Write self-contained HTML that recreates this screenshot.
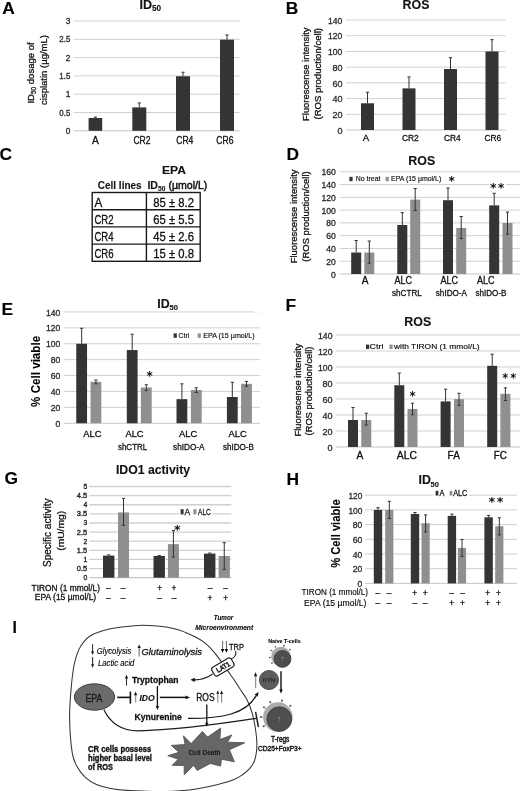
<!DOCTYPE html>
<html><head><meta charset="utf-8"><title>Figure</title>
<style>
html,body{margin:0;padding:0;background:#fff;}
body{width:520px;height:791px;overflow:hidden;}
svg{display:block;}
text{font-family:"Liberation Sans", Arial, sans-serif;}
</style></head><body>
<svg width="520" height="791" viewBox="0 0 520 791">
<rect width="520" height="791" fill="#fff"/>
<text x="2.20" y="14.30" font-size="17.4" font-weight="bold" fill="#000" stroke="#000" stroke-width="0.1">A</text>
<text x="139.50" y="8.60" font-size="12.6" font-weight="bold" fill="#111" stroke="#111" stroke-width="0.1">ID</text>
<text x="152.00" y="11.40" font-size="8.2" font-weight="bold" fill="#111" stroke="#111" stroke-width="0.1">50</text>
<line x1="73.50" y1="130.80" x2="239.50" y2="130.80" stroke="#c6c6c6" stroke-width="1"/>
<text x="70.30" y="133.82" font-size="8.4" text-anchor="end" fill="#2a2a2a" stroke="#2a2a2a" stroke-width="0.3">0</text>
<line x1="73.50" y1="112.50" x2="239.50" y2="112.50" stroke="#d0d0d0" stroke-width="1"/>
<text x="70.30" y="115.52" font-size="8.4" text-anchor="end" fill="#2a2a2a" textLength="11.00" lengthAdjust="spacingAndGlyphs" stroke="#2a2a2a" stroke-width="0.3">0.5</text>
<line x1="73.50" y1="94.20" x2="239.50" y2="94.20" stroke="#d0d0d0" stroke-width="1"/>
<text x="70.30" y="97.22" font-size="8.4" text-anchor="end" fill="#2a2a2a" stroke="#2a2a2a" stroke-width="0.3">1</text>
<line x1="73.50" y1="75.90" x2="239.50" y2="75.90" stroke="#d0d0d0" stroke-width="1"/>
<text x="70.30" y="78.92" font-size="8.4" text-anchor="end" fill="#2a2a2a" textLength="11.00" lengthAdjust="spacingAndGlyphs" stroke="#2a2a2a" stroke-width="0.3">1.5</text>
<line x1="73.50" y1="57.60" x2="239.50" y2="57.60" stroke="#d0d0d0" stroke-width="1"/>
<text x="70.30" y="60.62" font-size="8.4" text-anchor="end" fill="#2a2a2a" stroke="#2a2a2a" stroke-width="0.3">2</text>
<line x1="73.50" y1="39.30" x2="239.50" y2="39.30" stroke="#d0d0d0" stroke-width="1"/>
<text x="70.30" y="42.32" font-size="8.4" text-anchor="end" fill="#2a2a2a" textLength="11.00" lengthAdjust="spacingAndGlyphs" stroke="#2a2a2a" stroke-width="0.3">2.5</text>
<line x1="73.50" y1="21.00" x2="239.50" y2="21.00" stroke="#d0d0d0" stroke-width="1"/>
<text x="70.30" y="24.02" font-size="8.4" text-anchor="end" fill="#2a2a2a" stroke="#2a2a2a" stroke-width="0.3">3</text>
<rect x="88.60" y="117.99" width="13.60" height="12.81" fill="#343434"/>
<line x1="95.40" y1="117.08" x2="95.40" y2="117.99" stroke="#333" stroke-width="1"/>
<line x1="93.80" y1="117.08" x2="97.00" y2="117.08" stroke="#333" stroke-width="1"/>
<rect x="132.30" y="107.38" width="14.00" height="23.42" fill="#343434"/>
<line x1="139.30" y1="102.98" x2="139.30" y2="107.38" stroke="#333" stroke-width="1"/>
<line x1="137.70" y1="102.98" x2="140.90" y2="102.98" stroke="#333" stroke-width="1"/>
<rect x="176.00" y="76.27" width="14.00" height="54.53" fill="#343434"/>
<line x1="183.00" y1="72.24" x2="183.00" y2="76.27" stroke="#333" stroke-width="1"/>
<line x1="181.40" y1="72.24" x2="184.60" y2="72.24" stroke="#333" stroke-width="1"/>
<rect x="220.00" y="39.67" width="14.00" height="91.13" fill="#343434"/>
<line x1="227.00" y1="34.91" x2="227.00" y2="39.67" stroke="#333" stroke-width="1"/>
<line x1="225.40" y1="34.91" x2="228.60" y2="34.91" stroke="#333" stroke-width="1"/>
<text x="95.50" y="143.60" font-size="10.2" text-anchor="middle" stroke="#222" stroke-width="0.3">A</text>
<text x="142.00" y="143.60" font-size="10.2" text-anchor="middle" textLength="17.20" lengthAdjust="spacingAndGlyphs" stroke="#222" stroke-width="0.3">CR2</text>
<text x="184.80" y="143.60" font-size="10.2" text-anchor="middle" textLength="17.20" lengthAdjust="spacingAndGlyphs" stroke="#222" stroke-width="0.3">CR4</text>
<text x="224.90" y="143.60" font-size="10.2" text-anchor="middle" textLength="17.20" lengthAdjust="spacingAndGlyphs" stroke="#222" stroke-width="0.3">CR6</text>
<text transform="translate(34.20,73.00) rotate(-90)" x="0" y="0" font-size="9.5" text-anchor="middle" stroke="#222" stroke-width="0.3">ID<tspan font-size="6.5" dy="1.8">50</tspan><tspan dy="-1.8"> dosage of</tspan></text>
<text transform="translate(46.60,70.00) rotate(-90)" x="0" y="0" font-size="9.5" text-anchor="middle" stroke="#222" stroke-width="0.3">cisplatin (µg/mL)</text>
<text x="285.80" y="13.80" font-size="17.4" font-weight="bold" fill="#000" stroke="#000" stroke-width="0.1">B</text>
<text x="416.00" y="8.70" font-size="12.4" text-anchor="middle" font-weight="bold" fill="#111" stroke="#111" stroke-width="0.1">ROS</text>
<line x1="346.00" y1="130.00" x2="505.50" y2="130.00" stroke="#c6c6c6" stroke-width="1"/>
<text x="342.40" y="133.74" font-size="9" text-anchor="end" fill="#2a2a2a" stroke="#2a2a2a" stroke-width="0.3">0</text>
<line x1="346.00" y1="114.29" x2="505.50" y2="114.29" stroke="#d0d0d0" stroke-width="1"/>
<text x="342.40" y="118.03" font-size="9" text-anchor="end" fill="#2a2a2a" stroke="#2a2a2a" stroke-width="0.3">20</text>
<line x1="346.00" y1="98.57" x2="505.50" y2="98.57" stroke="#d0d0d0" stroke-width="1"/>
<text x="342.40" y="102.31" font-size="9" text-anchor="end" fill="#2a2a2a" stroke="#2a2a2a" stroke-width="0.3">40</text>
<line x1="346.00" y1="82.86" x2="505.50" y2="82.86" stroke="#d0d0d0" stroke-width="1"/>
<text x="342.40" y="86.60" font-size="9" text-anchor="end" fill="#2a2a2a" stroke="#2a2a2a" stroke-width="0.3">60</text>
<line x1="346.00" y1="67.14" x2="505.50" y2="67.14" stroke="#d0d0d0" stroke-width="1"/>
<text x="342.40" y="70.88" font-size="9" text-anchor="end" fill="#2a2a2a" stroke="#2a2a2a" stroke-width="0.3">80</text>
<line x1="346.00" y1="51.43" x2="505.50" y2="51.43" stroke="#d0d0d0" stroke-width="1"/>
<text x="342.40" y="55.17" font-size="9" text-anchor="end" fill="#2a2a2a" textLength="14.30" lengthAdjust="spacingAndGlyphs" stroke="#2a2a2a" stroke-width="0.3">100</text>
<line x1="346.00" y1="35.71" x2="505.50" y2="35.71" stroke="#d0d0d0" stroke-width="1"/>
<text x="342.40" y="39.45" font-size="9" text-anchor="end" fill="#2a2a2a" textLength="14.30" lengthAdjust="spacingAndGlyphs" stroke="#2a2a2a" stroke-width="0.3">120</text>
<line x1="346.00" y1="20.00" x2="505.50" y2="20.00" stroke="#d0d0d0" stroke-width="1"/>
<text x="342.40" y="23.74" font-size="9" text-anchor="end" fill="#2a2a2a" textLength="14.30" lengthAdjust="spacingAndGlyphs" stroke="#2a2a2a" stroke-width="0.3">140</text>
<rect x="361.00" y="103.29" width="13.00" height="26.71" fill="#343434"/>
<line x1="367.50" y1="92.29" x2="367.50" y2="103.29" stroke="#333" stroke-width="1"/>
<line x1="365.90" y1="92.29" x2="369.10" y2="92.29" stroke="#333" stroke-width="1"/>
<rect x="402.50" y="88.36" width="13.00" height="41.64" fill="#343434"/>
<line x1="409.00" y1="76.96" x2="409.00" y2="88.36" stroke="#333" stroke-width="1"/>
<line x1="407.40" y1="76.96" x2="410.60" y2="76.96" stroke="#333" stroke-width="1"/>
<rect x="444.00" y="69.03" width="13.00" height="60.97" fill="#343434"/>
<line x1="450.50" y1="57.71" x2="450.50" y2="69.03" stroke="#333" stroke-width="1"/>
<line x1="448.90" y1="57.71" x2="452.10" y2="57.71" stroke="#333" stroke-width="1"/>
<rect x="485.50" y="51.43" width="13.00" height="78.57" fill="#343434"/>
<line x1="492.00" y1="39.64" x2="492.00" y2="51.43" stroke="#333" stroke-width="1"/>
<line x1="490.40" y1="39.64" x2="493.60" y2="39.64" stroke="#333" stroke-width="1"/>
<text x="366.00" y="141.10" font-size="9.6" text-anchor="middle" stroke="#222" stroke-width="0.3">A</text>
<text x="410.30" y="141.10" font-size="9.6" text-anchor="middle" textLength="16.80" lengthAdjust="spacingAndGlyphs" stroke="#222" stroke-width="0.3">CR2</text>
<text x="452.30" y="141.10" font-size="9.6" text-anchor="middle" textLength="16.80" lengthAdjust="spacingAndGlyphs" stroke="#222" stroke-width="0.3">CR4</text>
<text x="492.80" y="141.10" font-size="9.6" text-anchor="middle" textLength="16.80" lengthAdjust="spacingAndGlyphs" stroke="#222" stroke-width="0.3">CR6</text>
<text transform="translate(309.00,74.20) rotate(-90)" x="0" y="0" font-size="9.4" text-anchor="middle" textLength="93.50" lengthAdjust="spacingAndGlyphs" stroke="#222" stroke-width="0.3">Fluorescense intensity</text>
<text transform="translate(320.60,73.80) rotate(-90)" x="0" y="0" font-size="9.4" text-anchor="middle" textLength="91.50" lengthAdjust="spacingAndGlyphs" stroke="#222" stroke-width="0.3">(ROS production/cell)</text>
<text x="-0.60" y="159.80" font-size="17.4" font-weight="bold" fill="#000" stroke="#000" stroke-width="0.1">C</text>
<text x="174.00" y="174.20" font-size="10.6" text-anchor="middle" font-weight="bold" fill="#111" textLength="24.00" lengthAdjust="spacingAndGlyphs" stroke="#111" stroke-width="0.1">EPA</text>
<text x="97.80" y="188.90" font-size="10.2" font-weight="bold" fill="#111" textLength="43.80" lengthAdjust="spacingAndGlyphs" stroke="#111" stroke-width="0.1">Cell lines</text>
<text x="147.40" y="188.90" font-size="10.2" font-weight="bold" fill="#111" textLength="60.00" lengthAdjust="spacingAndGlyphs" stroke="#111" stroke-width="0.1">ID<tspan font-size="6.5" dy="1.8">50</tspan><tspan dy="-1.8" font-weight="normal" stroke-width="0.45"> (µmol/L)</tspan></text>
<rect x="92.2" y="192.5" width="107.99999999999999" height="68.80000000000001" fill="none" stroke="#1a1a1a" stroke-width="1.4"/>
<line x1="92.20" y1="209.70" x2="200.20" y2="209.70" stroke="#1a1a1a" stroke-width="1.4"/>
<line x1="92.20" y1="226.90" x2="200.20" y2="226.90" stroke="#1a1a1a" stroke-width="1.4"/>
<line x1="92.20" y1="244.10" x2="200.20" y2="244.10" stroke="#1a1a1a" stroke-width="1.4"/>
<line x1="146.40" y1="192.50" x2="146.40" y2="261.30" stroke="#1a1a1a" stroke-width="1.4"/>
<text x="94.40" y="206.50" font-size="12.0" fill="#111" textLength="7.80" lengthAdjust="spacingAndGlyphs" stroke="#111" stroke-width="0.3">A</text>
<text x="173.60" y="206.50" font-size="12.0" text-anchor="middle" fill="#111" textLength="40.60" lengthAdjust="spacingAndGlyphs" stroke="#111" stroke-width="0.3">85 ± 8.2</text>
<text x="94.40" y="223.70" font-size="12.0" fill="#111" textLength="19.20" lengthAdjust="spacingAndGlyphs" stroke="#111" stroke-width="0.3">CR2</text>
<text x="173.60" y="223.70" font-size="12.0" text-anchor="middle" fill="#111" textLength="40.60" lengthAdjust="spacingAndGlyphs" stroke="#111" stroke-width="0.3">65 ± 5.5</text>
<text x="94.40" y="240.90" font-size="12.0" fill="#111" textLength="19.20" lengthAdjust="spacingAndGlyphs" stroke="#111" stroke-width="0.3">CR4</text>
<text x="173.60" y="240.90" font-size="12.0" text-anchor="middle" fill="#111" textLength="40.60" lengthAdjust="spacingAndGlyphs" stroke="#111" stroke-width="0.3">45 ± 2.6</text>
<text x="94.40" y="258.10" font-size="12.0" fill="#111" textLength="19.20" lengthAdjust="spacingAndGlyphs" stroke="#111" stroke-width="0.3">CR6</text>
<text x="173.60" y="258.10" font-size="12.0" text-anchor="middle" fill="#111" textLength="40.60" lengthAdjust="spacingAndGlyphs" stroke="#111" stroke-width="0.3">15 ± 0.8</text>
<text x="286.60" y="159.90" font-size="17.4" font-weight="bold" fill="#000" stroke="#000" stroke-width="0.1">D</text>
<text x="421.80" y="164.60" font-size="12.4" text-anchor="middle" font-weight="bold" fill="#111" stroke="#111" stroke-width="0.1">ROS</text>
<line x1="339.50" y1="274.00" x2="520.00" y2="274.00" stroke="#c6c6c6" stroke-width="1"/>
<text x="335.80" y="277.60" font-size="8.6" text-anchor="end" fill="#2a2a2a" stroke="#2a2a2a" stroke-width="0.3">0</text>
<line x1="339.50" y1="261.22" x2="520.00" y2="261.22" stroke="#d0d0d0" stroke-width="1"/>
<text x="335.80" y="264.82" font-size="8.6" text-anchor="end" fill="#2a2a2a" stroke="#2a2a2a" stroke-width="0.3">20</text>
<line x1="339.50" y1="248.44" x2="520.00" y2="248.44" stroke="#d0d0d0" stroke-width="1"/>
<text x="335.80" y="252.04" font-size="8.6" text-anchor="end" fill="#2a2a2a" stroke="#2a2a2a" stroke-width="0.3">40</text>
<line x1="339.50" y1="235.66" x2="520.00" y2="235.66" stroke="#d0d0d0" stroke-width="1"/>
<text x="335.80" y="239.26" font-size="8.6" text-anchor="end" fill="#2a2a2a" stroke="#2a2a2a" stroke-width="0.3">60</text>
<line x1="339.50" y1="222.88" x2="520.00" y2="222.88" stroke="#d0d0d0" stroke-width="1"/>
<text x="335.80" y="226.48" font-size="8.6" text-anchor="end" fill="#2a2a2a" stroke="#2a2a2a" stroke-width="0.3">80</text>
<line x1="339.50" y1="210.10" x2="520.00" y2="210.10" stroke="#d0d0d0" stroke-width="1"/>
<text x="335.80" y="213.70" font-size="8.6" text-anchor="end" fill="#2a2a2a" textLength="14.40" lengthAdjust="spacingAndGlyphs" stroke="#2a2a2a" stroke-width="0.3">100</text>
<line x1="339.50" y1="197.32" x2="520.00" y2="197.32" stroke="#d0d0d0" stroke-width="1"/>
<text x="335.80" y="200.92" font-size="8.6" text-anchor="end" fill="#2a2a2a" textLength="14.40" lengthAdjust="spacingAndGlyphs" stroke="#2a2a2a" stroke-width="0.3">120</text>
<line x1="339.50" y1="184.54" x2="520.00" y2="184.54" stroke="#d0d0d0" stroke-width="1"/>
<text x="335.80" y="188.14" font-size="8.6" text-anchor="end" fill="#2a2a2a" textLength="14.40" lengthAdjust="spacingAndGlyphs" stroke="#2a2a2a" stroke-width="0.3">140</text>
<line x1="339.50" y1="171.76" x2="520.00" y2="171.76" stroke="#d0d0d0" stroke-width="1"/>
<text x="335.80" y="175.36" font-size="8.6" text-anchor="end" fill="#2a2a2a" textLength="14.40" lengthAdjust="spacingAndGlyphs" stroke="#2a2a2a" stroke-width="0.3">160</text>
<rect x="351.20" y="252.53" width="10.00" height="21.47" fill="#343434"/>
<line x1="356.20" y1="240.52" x2="356.20" y2="252.53" stroke="#333" stroke-width="1"/>
<line x1="354.60" y1="240.52" x2="357.80" y2="240.52" stroke="#333" stroke-width="1"/>
<rect x="364.30" y="252.53" width="10.00" height="21.47" fill="#8f8f8f"/>
<line x1="369.30" y1="241.03" x2="369.30" y2="252.53" stroke="#333" stroke-width="1"/>
<line x1="367.70" y1="241.03" x2="370.90" y2="241.03" stroke="#333" stroke-width="1"/>
<line x1="369.30" y1="252.53" x2="369.30" y2="263.14" stroke="#333" stroke-width="1"/>
<line x1="367.70" y1="263.14" x2="370.90" y2="263.14" stroke="#333" stroke-width="1"/>
<rect x="397.30" y="224.99" width="10.00" height="49.01" fill="#343434"/>
<line x1="402.30" y1="212.66" x2="402.30" y2="224.99" stroke="#333" stroke-width="1"/>
<line x1="400.70" y1="212.66" x2="403.90" y2="212.66" stroke="#333" stroke-width="1"/>
<rect x="410.20" y="199.62" width="10.00" height="74.38" fill="#8f8f8f"/>
<line x1="415.20" y1="188.50" x2="415.20" y2="199.62" stroke="#333" stroke-width="1"/>
<line x1="413.60" y1="188.50" x2="416.80" y2="188.50" stroke="#333" stroke-width="1"/>
<line x1="415.20" y1="199.62" x2="415.20" y2="210.61" stroke="#333" stroke-width="1"/>
<line x1="413.60" y1="210.61" x2="416.80" y2="210.61" stroke="#333" stroke-width="1"/>
<rect x="443.00" y="200.20" width="10.00" height="73.80" fill="#343434"/>
<line x1="448.00" y1="187.99" x2="448.00" y2="200.20" stroke="#333" stroke-width="1"/>
<line x1="446.40" y1="187.99" x2="449.60" y2="187.99" stroke="#333" stroke-width="1"/>
<rect x="456.20" y="227.93" width="10.00" height="46.07" fill="#8f8f8f"/>
<line x1="461.20" y1="216.49" x2="461.20" y2="227.93" stroke="#333" stroke-width="1"/>
<line x1="459.60" y1="216.49" x2="462.80" y2="216.49" stroke="#333" stroke-width="1"/>
<line x1="461.20" y1="227.93" x2="461.20" y2="238.60" stroke="#333" stroke-width="1"/>
<line x1="459.60" y1="238.60" x2="462.80" y2="238.60" stroke="#333" stroke-width="1"/>
<rect x="489.20" y="205.37" width="10.00" height="68.63" fill="#343434"/>
<line x1="494.20" y1="193.29" x2="494.20" y2="205.37" stroke="#333" stroke-width="1"/>
<line x1="492.60" y1="193.29" x2="495.80" y2="193.29" stroke="#333" stroke-width="1"/>
<rect x="502.50" y="223.01" width="10.00" height="50.99" fill="#8f8f8f"/>
<line x1="507.50" y1="212.08" x2="507.50" y2="223.01" stroke="#333" stroke-width="1"/>
<line x1="505.90" y1="212.08" x2="509.10" y2="212.08" stroke="#333" stroke-width="1"/>
<line x1="507.50" y1="223.01" x2="507.50" y2="234.19" stroke="#333" stroke-width="1"/>
<line x1="505.90" y1="234.19" x2="509.10" y2="234.19" stroke="#333" stroke-width="1"/>
<rect x="349.40" y="176.80" width="3.20" height="4.40" fill="#343434"/>
<text x="355.80" y="181.40" font-size="7.6" textLength="24.60" lengthAdjust="spacingAndGlyphs" stroke="#222" stroke-width="0.15">No treat</text>
<rect x="385.60" y="176.80" width="3.20" height="4.40" fill="#8f8f8f"/>
<text x="391.00" y="181.40" font-size="7.6" textLength="50.20" lengthAdjust="spacingAndGlyphs" stroke="#222" stroke-width="0.15">EPA (15 µmol/L)</text>
<text x="451.60" y="185.40" font-size="12" text-anchor="middle" font-weight="bold" fill="#111" style="font-family:&quot;DejaVu Sans&quot;,sans-serif">*</text>
<rect x="489.00" y="181.00" width="17.00" height="8.00" fill="#fff"/>
<text x="497.20" y="192.00" font-size="12.6" text-anchor="middle" font-weight="bold" fill="#111" textLength="14.50" lengthAdjust="spacing" style="font-family:&quot;DejaVu Sans&quot;,sans-serif">**</text>
<text x="365.00" y="284.40" font-size="10" text-anchor="middle" stroke="#222" stroke-width="0.3">A</text>
<text x="403.20" y="284.40" font-size="10" text-anchor="middle" textLength="17.60" lengthAdjust="spacingAndGlyphs" stroke="#222" stroke-width="0.3">ALC</text>
<text x="449.20" y="284.40" font-size="10" text-anchor="middle" textLength="17.60" lengthAdjust="spacingAndGlyphs" stroke="#222" stroke-width="0.3">ALC</text>
<text x="485.70" y="284.40" font-size="10" text-anchor="middle" textLength="17.60" lengthAdjust="spacingAndGlyphs" stroke="#222" stroke-width="0.3">ALC</text>
<text x="406.90" y="296.30" font-size="9.4" text-anchor="middle" textLength="29.80" lengthAdjust="spacingAndGlyphs" stroke="#222" stroke-width="0.3">shCTRL</text>
<text x="451.40" y="296.30" font-size="9.4" text-anchor="middle" textLength="31.20" lengthAdjust="spacingAndGlyphs" stroke="#222" stroke-width="0.3">shIDO-A</text>
<text x="491.00" y="296.30" font-size="9.4" text-anchor="middle" textLength="30.80" lengthAdjust="spacingAndGlyphs" stroke="#222" stroke-width="0.3">shIDO-B</text>
<text transform="translate(297.00,216.40) rotate(-90)" x="0" y="0" font-size="9.4" text-anchor="middle" textLength="93.80" lengthAdjust="spacingAndGlyphs" stroke="#222" stroke-width="0.3">Fluorescense intensity</text>
<text transform="translate(309.20,216.50) rotate(-90)" x="0" y="0" font-size="9.4" text-anchor="middle" textLength="90.40" lengthAdjust="spacingAndGlyphs" stroke="#222" stroke-width="0.3">(ROS production/cell)</text>
<text x="1.40" y="315.20" font-size="17.4" font-weight="bold" fill="#000" stroke="#000" stroke-width="0.1">E</text>
<text x="157.20" y="307.50" font-size="12.4" font-weight="bold" fill="#111" stroke="#111" stroke-width="0.1">ID</text>
<text x="169.60" y="310.20" font-size="7.6" font-weight="bold" fill="#111" stroke="#111" stroke-width="0.1">50</text>
<line x1="63.75" y1="423.25" x2="260.00" y2="423.25" stroke="#c6c6c6" stroke-width="1"/>
<text x="60.30" y="426.85" font-size="8.6" text-anchor="end" fill="#2a2a2a" stroke="#2a2a2a" stroke-width="0.3">0</text>
<line x1="63.75" y1="407.35" x2="260.00" y2="407.35" stroke="#d0d0d0" stroke-width="1"/>
<text x="60.30" y="410.95" font-size="8.6" text-anchor="end" fill="#2a2a2a" stroke="#2a2a2a" stroke-width="0.3">20</text>
<line x1="63.75" y1="391.45" x2="260.00" y2="391.45" stroke="#d0d0d0" stroke-width="1"/>
<text x="60.30" y="395.05" font-size="8.6" text-anchor="end" fill="#2a2a2a" stroke="#2a2a2a" stroke-width="0.3">40</text>
<line x1="63.75" y1="375.55" x2="260.00" y2="375.55" stroke="#d0d0d0" stroke-width="1"/>
<text x="60.30" y="379.15" font-size="8.6" text-anchor="end" fill="#2a2a2a" stroke="#2a2a2a" stroke-width="0.3">60</text>
<line x1="63.75" y1="359.65" x2="260.00" y2="359.65" stroke="#d0d0d0" stroke-width="1"/>
<text x="60.30" y="363.25" font-size="8.6" text-anchor="end" fill="#2a2a2a" stroke="#2a2a2a" stroke-width="0.3">80</text>
<line x1="63.75" y1="343.75" x2="260.00" y2="343.75" stroke="#d0d0d0" stroke-width="1"/>
<text x="60.30" y="347.35" font-size="8.6" text-anchor="end" fill="#2a2a2a" textLength="14.30" lengthAdjust="spacingAndGlyphs" stroke="#2a2a2a" stroke-width="0.3">100</text>
<line x1="63.75" y1="327.85" x2="260.00" y2="327.85" stroke="#d0d0d0" stroke-width="1"/>
<text x="60.30" y="331.45" font-size="8.6" text-anchor="end" fill="#2a2a2a" textLength="14.30" lengthAdjust="spacingAndGlyphs" stroke="#2a2a2a" stroke-width="0.3">120</text>
<line x1="63.75" y1="311.95" x2="260.00" y2="311.95" stroke="#d0d0d0" stroke-width="1"/>
<text x="60.30" y="315.55" font-size="8.6" text-anchor="end" fill="#2a2a2a" textLength="14.30" lengthAdjust="spacingAndGlyphs" stroke="#2a2a2a" stroke-width="0.3">140</text>
<rect x="76.25" y="343.75" width="10.80" height="79.50" fill="#343434"/>
<line x1="81.65" y1="328.25" x2="81.65" y2="343.75" stroke="#333" stroke-width="1"/>
<line x1="80.05" y1="328.25" x2="83.25" y2="328.25" stroke="#333" stroke-width="1"/>
<rect x="90.50" y="381.75" width="10.80" height="41.50" fill="#8f8f8f"/>
<line x1="95.90" y1="380.00" x2="95.90" y2="381.75" stroke="#333" stroke-width="1"/>
<line x1="94.30" y1="380.00" x2="97.50" y2="380.00" stroke="#333" stroke-width="1"/>
<line x1="95.90" y1="381.75" x2="95.90" y2="383.74" stroke="#333" stroke-width="1"/>
<line x1="94.30" y1="383.74" x2="97.50" y2="383.74" stroke="#333" stroke-width="1"/>
<rect x="126.80" y="350.03" width="10.80" height="73.22" fill="#343434"/>
<line x1="132.20" y1="334.21" x2="132.20" y2="350.03" stroke="#333" stroke-width="1"/>
<line x1="130.60" y1="334.21" x2="133.80" y2="334.21" stroke="#333" stroke-width="1"/>
<rect x="140.90" y="387.48" width="10.80" height="35.77" fill="#8f8f8f"/>
<line x1="146.30" y1="384.77" x2="146.30" y2="387.48" stroke="#333" stroke-width="1"/>
<line x1="144.70" y1="384.77" x2="147.90" y2="384.77" stroke="#333" stroke-width="1"/>
<line x1="146.30" y1="387.48" x2="146.30" y2="390.65" stroke="#333" stroke-width="1"/>
<line x1="144.70" y1="390.65" x2="147.90" y2="390.65" stroke="#333" stroke-width="1"/>
<rect x="176.50" y="399.16" width="10.80" height="24.09" fill="#343434"/>
<line x1="181.90" y1="383.82" x2="181.90" y2="399.16" stroke="#333" stroke-width="1"/>
<line x1="180.30" y1="383.82" x2="183.50" y2="383.82" stroke="#333" stroke-width="1"/>
<rect x="190.90" y="390.02" width="10.80" height="33.23" fill="#8f8f8f"/>
<line x1="196.30" y1="387.79" x2="196.30" y2="390.02" stroke="#333" stroke-width="1"/>
<line x1="194.70" y1="387.79" x2="197.90" y2="387.79" stroke="#333" stroke-width="1"/>
<line x1="196.30" y1="390.02" x2="196.30" y2="392.48" stroke="#333" stroke-width="1"/>
<line x1="194.70" y1="392.48" x2="197.90" y2="392.48" stroke="#333" stroke-width="1"/>
<rect x="226.90" y="397.01" width="10.80" height="26.24" fill="#343434"/>
<line x1="232.30" y1="382.31" x2="232.30" y2="397.01" stroke="#333" stroke-width="1"/>
<line x1="230.70" y1="382.31" x2="233.90" y2="382.31" stroke="#333" stroke-width="1"/>
<rect x="241.10" y="383.82" width="10.80" height="39.43" fill="#8f8f8f"/>
<line x1="246.50" y1="381.43" x2="246.50" y2="383.82" stroke="#333" stroke-width="1"/>
<line x1="244.90" y1="381.43" x2="248.10" y2="381.43" stroke="#333" stroke-width="1"/>
<line x1="246.50" y1="383.82" x2="246.50" y2="386.28" stroke="#333" stroke-width="1"/>
<line x1="244.90" y1="386.28" x2="248.10" y2="386.28" stroke="#333" stroke-width="1"/>
<rect x="254.00" y="310.50" width="7.00" height="2.00" fill="#fff"/>
<rect x="173.60" y="333.40" width="3.20" height="4.40" fill="#343434"/>
<text x="178.50" y="338.00" font-size="7.4" textLength="10.70" lengthAdjust="spacingAndGlyphs" stroke="#222" stroke-width="0.15">Ctrl</text>
<rect x="197.60" y="333.40" width="3.20" height="4.40" fill="#8f8f8f"/>
<text x="203.20" y="338.00" font-size="7.4" textLength="51.50" lengthAdjust="spacingAndGlyphs" stroke="#222" stroke-width="0.15">EPA (15 µmol/L)</text>
<text x="149.60" y="379.50" font-size="12" text-anchor="middle" font-weight="bold" fill="#111" style="font-family:&quot;DejaVu Sans&quot;,sans-serif">*</text>
<text x="92.30" y="437.20" font-size="9.8" text-anchor="middle" textLength="18.20" lengthAdjust="spacingAndGlyphs" stroke="#222" stroke-width="0.3">ALC</text>
<text x="134.50" y="437.20" font-size="9.8" text-anchor="middle" textLength="18.20" lengthAdjust="spacingAndGlyphs" stroke="#222" stroke-width="0.3">ALC</text>
<text x="188.20" y="437.20" font-size="9.8" text-anchor="middle" textLength="18.20" lengthAdjust="spacingAndGlyphs" stroke="#222" stroke-width="0.3">ALC</text>
<text x="237.70" y="437.20" font-size="9.8" text-anchor="middle" textLength="18.20" lengthAdjust="spacingAndGlyphs" stroke="#222" stroke-width="0.3">ALC</text>
<text x="132.60" y="449.80" font-size="9.4" text-anchor="middle" textLength="29.40" lengthAdjust="spacingAndGlyphs" stroke="#222" stroke-width="0.3">shCTRL</text>
<text x="188.80" y="449.80" font-size="9.4" text-anchor="middle" textLength="31.40" lengthAdjust="spacingAndGlyphs" stroke="#222" stroke-width="0.3">shIDO-A</text>
<text x="238.40" y="449.80" font-size="9.4" text-anchor="middle" textLength="31.00" lengthAdjust="spacingAndGlyphs" stroke="#222" stroke-width="0.3">shIDO-B</text>
<text transform="translate(39.60,371.40) rotate(-90)" x="0" y="0" font-size="13.6" text-anchor="middle" font-weight="bold" textLength="71.00" lengthAdjust="spacingAndGlyphs" stroke="#222" stroke-width="0.1">% Cell viable</text>
<text x="285.60" y="311.20" font-size="17.4" font-weight="bold" fill="#000" stroke="#000" stroke-width="0.1">F</text>
<text x="417.80" y="326.20" font-size="12.4" text-anchor="middle" font-weight="bold" fill="#111" stroke="#111" stroke-width="0.1">ROS</text>
<line x1="336.00" y1="447.00" x2="520.00" y2="447.00" stroke="#c6c6c6" stroke-width="1"/>
<text x="332.60" y="450.74" font-size="9" text-anchor="end" fill="#2a2a2a" stroke="#2a2a2a" stroke-width="0.3">0</text>
<line x1="336.00" y1="431.00" x2="520.00" y2="431.00" stroke="#d0d0d0" stroke-width="1"/>
<text x="332.60" y="434.74" font-size="9" text-anchor="end" fill="#2a2a2a" stroke="#2a2a2a" stroke-width="0.3">20</text>
<line x1="336.00" y1="415.00" x2="520.00" y2="415.00" stroke="#d0d0d0" stroke-width="1"/>
<text x="332.60" y="418.74" font-size="9" text-anchor="end" fill="#2a2a2a" stroke="#2a2a2a" stroke-width="0.3">40</text>
<line x1="336.00" y1="399.00" x2="520.00" y2="399.00" stroke="#d0d0d0" stroke-width="1"/>
<text x="332.60" y="402.74" font-size="9" text-anchor="end" fill="#2a2a2a" stroke="#2a2a2a" stroke-width="0.3">60</text>
<line x1="336.00" y1="383.00" x2="520.00" y2="383.00" stroke="#d0d0d0" stroke-width="1"/>
<text x="332.60" y="386.74" font-size="9" text-anchor="end" fill="#2a2a2a" stroke="#2a2a2a" stroke-width="0.3">80</text>
<line x1="336.00" y1="367.00" x2="520.00" y2="367.00" stroke="#d0d0d0" stroke-width="1"/>
<text x="332.60" y="370.74" font-size="9" text-anchor="end" fill="#2a2a2a" textLength="14.60" lengthAdjust="spacingAndGlyphs" stroke="#2a2a2a" stroke-width="0.3">100</text>
<line x1="336.00" y1="351.00" x2="520.00" y2="351.00" stroke="#d0d0d0" stroke-width="1"/>
<text x="332.60" y="354.74" font-size="9" text-anchor="end" fill="#2a2a2a" textLength="14.60" lengthAdjust="spacingAndGlyphs" stroke="#2a2a2a" stroke-width="0.3">120</text>
<line x1="336.00" y1="335.00" x2="520.00" y2="335.00" stroke="#d0d0d0" stroke-width="1"/>
<text x="332.60" y="338.74" font-size="9" text-anchor="end" fill="#2a2a2a" textLength="14.60" lengthAdjust="spacingAndGlyphs" stroke="#2a2a2a" stroke-width="0.3">140</text>
<rect x="348.00" y="420.00" width="10.00" height="27.00" fill="#343434"/>
<line x1="353.00" y1="407.48" x2="353.00" y2="420.00" stroke="#333" stroke-width="1"/>
<line x1="351.40" y1="407.48" x2="354.60" y2="407.48" stroke="#333" stroke-width="1"/>
<rect x="361.25" y="420.00" width="10.00" height="27.00" fill="#8f8f8f"/>
<line x1="366.25" y1="413.24" x2="366.25" y2="420.00" stroke="#333" stroke-width="1"/>
<line x1="364.65" y1="413.24" x2="367.85" y2="413.24" stroke="#333" stroke-width="1"/>
<line x1="366.25" y1="420.00" x2="366.25" y2="425.00" stroke="#333" stroke-width="1"/>
<line x1="364.65" y1="425.00" x2="367.85" y2="425.00" stroke="#333" stroke-width="1"/>
<rect x="394.30" y="385.24" width="10.00" height="61.76" fill="#343434"/>
<line x1="399.30" y1="373.08" x2="399.30" y2="385.24" stroke="#333" stroke-width="1"/>
<line x1="397.70" y1="373.08" x2="400.90" y2="373.08" stroke="#333" stroke-width="1"/>
<rect x="407.50" y="408.92" width="10.00" height="38.08" fill="#8f8f8f"/>
<line x1="412.50" y1="403.24" x2="412.50" y2="408.92" stroke="#333" stroke-width="1"/>
<line x1="410.90" y1="403.24" x2="414.10" y2="403.24" stroke="#333" stroke-width="1"/>
<line x1="412.50" y1="408.92" x2="412.50" y2="414.76" stroke="#333" stroke-width="1"/>
<line x1="410.90" y1="414.76" x2="414.10" y2="414.76" stroke="#333" stroke-width="1"/>
<rect x="440.60" y="401.40" width="10.00" height="45.60" fill="#343434"/>
<line x1="445.60" y1="389.16" x2="445.60" y2="401.40" stroke="#333" stroke-width="1"/>
<line x1="444.00" y1="389.16" x2="447.20" y2="389.16" stroke="#333" stroke-width="1"/>
<rect x="454.00" y="399.16" width="10.00" height="47.84" fill="#8f8f8f"/>
<line x1="459.00" y1="393.32" x2="459.00" y2="399.16" stroke="#333" stroke-width="1"/>
<line x1="457.40" y1="393.32" x2="460.60" y2="393.32" stroke="#333" stroke-width="1"/>
<line x1="459.00" y1="399.16" x2="459.00" y2="405.40" stroke="#333" stroke-width="1"/>
<line x1="457.40" y1="405.40" x2="460.60" y2="405.40" stroke="#333" stroke-width="1"/>
<rect x="487.20" y="365.80" width="10.00" height="81.20" fill="#343434"/>
<line x1="492.20" y1="354.20" x2="492.20" y2="365.80" stroke="#333" stroke-width="1"/>
<line x1="490.60" y1="354.20" x2="493.80" y2="354.20" stroke="#333" stroke-width="1"/>
<rect x="500.40" y="393.80" width="10.00" height="53.20" fill="#8f8f8f"/>
<line x1="505.40" y1="387.88" x2="505.40" y2="393.80" stroke="#333" stroke-width="1"/>
<line x1="503.80" y1="387.88" x2="507.00" y2="387.88" stroke="#333" stroke-width="1"/>
<line x1="505.40" y1="393.80" x2="505.40" y2="400.52" stroke="#333" stroke-width="1"/>
<line x1="503.80" y1="400.52" x2="507.00" y2="400.52" stroke="#333" stroke-width="1"/>
<rect x="366.00" y="344.60" width="3.20" height="4.40" fill="#343434"/>
<text x="369.60" y="349.40" font-size="7.8" textLength="14.00" lengthAdjust="spacingAndGlyphs" stroke="#222" stroke-width="0.15">Ctrl</text>
<rect x="389.40" y="344.60" width="3.20" height="4.40" fill="#8f8f8f"/>
<text x="394.00" y="349.40" font-size="7.8" textLength="85.60" lengthAdjust="spacingAndGlyphs" stroke="#222" stroke-width="0.15">with TIRON (1 mmol/L)</text>
<text x="412.60" y="400.10" font-size="11.7" text-anchor="middle" font-weight="bold" fill="#111" style="font-family:&quot;DejaVu Sans&quot;,sans-serif">*</text>
<text x="509.30" y="381.80" font-size="11.4" text-anchor="middle" font-weight="bold" fill="#111" textLength="14.00" lengthAdjust="spacing" style="font-family:&quot;DejaVu Sans&quot;,sans-serif">**</text>
<text x="360.00" y="458.90" font-size="10.2" text-anchor="middle" stroke="#222" stroke-width="0.3">A</text>
<text x="406.90" y="458.90" font-size="10.2" text-anchor="middle" textLength="20.20" lengthAdjust="spacingAndGlyphs" stroke="#222" stroke-width="0.3">ALC</text>
<text x="453.70" y="458.90" font-size="10.2" text-anchor="middle" textLength="12.20" lengthAdjust="spacingAndGlyphs" stroke="#222" stroke-width="0.3">FA</text>
<text x="500.40" y="458.90" font-size="10.2" text-anchor="middle" textLength="13.20" lengthAdjust="spacingAndGlyphs" stroke="#222" stroke-width="0.3">FC</text>
<text transform="translate(300.80,390.00) rotate(-90)" x="0" y="0" font-size="9.2" text-anchor="middle" textLength="92.90" lengthAdjust="spacingAndGlyphs" stroke="#222" stroke-width="0.3">Fluorescense intensity</text>
<text transform="translate(312.40,391.00) rotate(-90)" x="0" y="0" font-size="9.2" text-anchor="middle" textLength="88.90" lengthAdjust="spacingAndGlyphs" stroke="#222" stroke-width="0.3">(ROS production/cell)</text>
<text x="4.40" y="483.60" font-size="17.4" font-weight="bold" fill="#000" stroke="#000" stroke-width="0.1">G</text>
<text x="153.00" y="474.40" font-size="12.2" text-anchor="middle" font-weight="bold" fill="#111" textLength="74.20" lengthAdjust="spacingAndGlyphs" stroke="#111" stroke-width="0.1">IDO1 activity</text>
<line x1="89.40" y1="577.70" x2="231.30" y2="577.70" stroke="#c6c6c6" stroke-width="1.3"/>
<text x="87.20" y="580.15" font-size="6.8" text-anchor="end" fill="#2a2a2a" stroke="#2a2a2a" stroke-width="0.35">0</text>
<line x1="89.40" y1="568.58" x2="231.30" y2="568.58" stroke="#d0d0d0" stroke-width="1.3"/>
<text x="87.20" y="571.03" font-size="6.8" text-anchor="end" fill="#2a2a2a" textLength="10.40" lengthAdjust="spacingAndGlyphs" stroke="#2a2a2a" stroke-width="0.35">0.5</text>
<line x1="89.40" y1="559.46" x2="231.30" y2="559.46" stroke="#d0d0d0" stroke-width="1.3"/>
<text x="87.20" y="561.91" font-size="6.8" text-anchor="end" fill="#2a2a2a" stroke="#2a2a2a" stroke-width="0.35">1</text>
<line x1="89.40" y1="550.34" x2="231.30" y2="550.34" stroke="#d0d0d0" stroke-width="1.3"/>
<text x="87.20" y="552.79" font-size="6.8" text-anchor="end" fill="#2a2a2a" textLength="10.40" lengthAdjust="spacingAndGlyphs" stroke="#2a2a2a" stroke-width="0.35">1.5</text>
<line x1="89.40" y1="541.22" x2="231.30" y2="541.22" stroke="#d0d0d0" stroke-width="1.3"/>
<text x="87.20" y="543.67" font-size="6.8" text-anchor="end" fill="#2a2a2a" stroke="#2a2a2a" stroke-width="0.35">2</text>
<line x1="89.40" y1="532.10" x2="231.30" y2="532.10" stroke="#d0d0d0" stroke-width="1.3"/>
<text x="87.20" y="534.55" font-size="6.8" text-anchor="end" fill="#2a2a2a" textLength="10.40" lengthAdjust="spacingAndGlyphs" stroke="#2a2a2a" stroke-width="0.35">2.5</text>
<line x1="89.40" y1="522.98" x2="231.30" y2="522.98" stroke="#d0d0d0" stroke-width="1.3"/>
<text x="87.20" y="525.43" font-size="6.8" text-anchor="end" fill="#2a2a2a" stroke="#2a2a2a" stroke-width="0.35">3</text>
<line x1="89.40" y1="513.86" x2="231.30" y2="513.86" stroke="#d0d0d0" stroke-width="1.3"/>
<text x="87.20" y="516.31" font-size="6.8" text-anchor="end" fill="#2a2a2a" textLength="10.40" lengthAdjust="spacingAndGlyphs" stroke="#2a2a2a" stroke-width="0.35">3.5</text>
<line x1="89.40" y1="504.74" x2="231.30" y2="504.74" stroke="#d0d0d0" stroke-width="1.3"/>
<text x="87.20" y="507.19" font-size="6.8" text-anchor="end" fill="#2a2a2a" stroke="#2a2a2a" stroke-width="0.35">4</text>
<line x1="89.40" y1="495.62" x2="231.30" y2="495.62" stroke="#d0d0d0" stroke-width="1.3"/>
<text x="87.20" y="498.07" font-size="6.8" text-anchor="end" fill="#2a2a2a" textLength="10.40" lengthAdjust="spacingAndGlyphs" stroke="#2a2a2a" stroke-width="0.35">4.5</text>
<line x1="89.40" y1="486.50" x2="231.30" y2="486.50" stroke="#d0d0d0" stroke-width="1.3"/>
<text x="87.20" y="488.95" font-size="6.8" text-anchor="end" fill="#2a2a2a" stroke="#2a2a2a" stroke-width="0.35">5</text>
<rect x="103.00" y="555.63" width="11.40" height="22.07" fill="#343434"/>
<line x1="108.70" y1="554.90" x2="108.70" y2="555.63" stroke="#333" stroke-width="1"/>
<line x1="107.10" y1="554.90" x2="110.30" y2="554.90" stroke="#333" stroke-width="1"/>
<rect x="118.00" y="512.40" width="11.00" height="65.30" fill="#8f8f8f"/>
<line x1="123.50" y1="498.36" x2="123.50" y2="512.40" stroke="#333" stroke-width="1"/>
<line x1="121.90" y1="498.36" x2="125.10" y2="498.36" stroke="#333" stroke-width="1"/>
<line x1="123.50" y1="512.40" x2="123.50" y2="525.35" stroke="#333" stroke-width="1"/>
<line x1="121.90" y1="525.35" x2="125.10" y2="525.35" stroke="#333" stroke-width="1"/>
<rect x="153.50" y="555.99" width="11.40" height="21.71" fill="#343434"/>
<line x1="159.20" y1="555.45" x2="159.20" y2="555.99" stroke="#333" stroke-width="1"/>
<line x1="157.60" y1="555.45" x2="160.80" y2="555.45" stroke="#333" stroke-width="1"/>
<rect x="167.90" y="544.14" width="11.00" height="33.56" fill="#8f8f8f"/>
<line x1="173.40" y1="530.64" x2="173.40" y2="544.14" stroke="#333" stroke-width="1"/>
<line x1="171.80" y1="530.64" x2="175.00" y2="530.64" stroke="#333" stroke-width="1"/>
<line x1="173.40" y1="544.14" x2="173.40" y2="557.09" stroke="#333" stroke-width="1"/>
<line x1="171.80" y1="557.09" x2="175.00" y2="557.09" stroke="#333" stroke-width="1"/>
<rect x="204.00" y="553.62" width="11.40" height="24.08" fill="#343434"/>
<line x1="209.70" y1="553.08" x2="209.70" y2="553.62" stroke="#333" stroke-width="1"/>
<line x1="208.10" y1="553.08" x2="211.30" y2="553.08" stroke="#333" stroke-width="1"/>
<rect x="218.60" y="555.99" width="11.30" height="21.71" fill="#8f8f8f"/>
<line x1="224.25" y1="542.68" x2="224.25" y2="555.99" stroke="#333" stroke-width="1"/>
<line x1="222.65" y1="542.68" x2="225.85" y2="542.68" stroke="#333" stroke-width="1"/>
<line x1="224.25" y1="555.99" x2="224.25" y2="569.49" stroke="#333" stroke-width="1"/>
<line x1="222.65" y1="569.49" x2="225.85" y2="569.49" stroke="#333" stroke-width="1"/>
<rect x="179.40" y="506.20" width="33.00" height="10.00" fill="#fff"/>
<rect x="180.60" y="509.20" width="3.00" height="5.20" fill="#343434"/>
<text x="184.40" y="514.90" font-size="9.8" textLength="5.60" lengthAdjust="spacingAndGlyphs" stroke="#222" stroke-width="0.3">A</text>
<rect x="193.40" y="509.20" width="3.00" height="5.20" fill="#8f8f8f"/>
<text x="198.00" y="514.90" font-size="9.8" textLength="12.80" lengthAdjust="spacingAndGlyphs" stroke="#222" stroke-width="0.3">ALC</text>
<text x="177.40" y="534.10" font-size="12.6" text-anchor="middle" font-weight="bold" fill="#111" style="font-family:&quot;DejaVu Sans&quot;,sans-serif">*</text>
<text x="65.80" y="590.90" font-size="8.4" text-anchor="middle" textLength="68.40" lengthAdjust="spacingAndGlyphs" stroke="#222" stroke-width="0.3">TIRON (1 mmol/L)</text>
<text x="65.50" y="600.20" font-size="8.4" text-anchor="middle" textLength="61.40" lengthAdjust="spacingAndGlyphs" stroke="#222" stroke-width="0.3">EPA (15 µmol/L)</text>
<text x="108.30" y="591.00" font-size="8.4" text-anchor="middle" stroke="#222" stroke-width="0.3">–</text>
<text x="108.30" y="601.30" font-size="8.4" text-anchor="middle" stroke="#222" stroke-width="0.3">–</text>
<text x="123.10" y="591.00" font-size="8.4" text-anchor="middle" stroke="#222" stroke-width="0.3">–</text>
<text x="123.10" y="601.30" font-size="8.4" text-anchor="middle" stroke="#222" stroke-width="0.3">–</text>
<text x="159.60" y="591.00" font-size="8.4" text-anchor="middle" stroke="#222" stroke-width="0.3">+</text>
<text x="159.60" y="601.30" font-size="8.4" text-anchor="middle" stroke="#222" stroke-width="0.3">–</text>
<text x="174.00" y="591.00" font-size="8.4" text-anchor="middle" stroke="#222" stroke-width="0.3">+</text>
<text x="174.00" y="601.30" font-size="8.4" text-anchor="middle" stroke="#222" stroke-width="0.3">–</text>
<text x="210.00" y="591.00" font-size="8.4" text-anchor="middle" stroke="#222" stroke-width="0.3">–</text>
<text x="210.00" y="601.30" font-size="8.4" text-anchor="middle" stroke="#222" stroke-width="0.3">+</text>
<text x="225.60" y="591.00" font-size="8.4" text-anchor="middle" stroke="#222" stroke-width="0.3">–</text>
<text x="225.60" y="601.30" font-size="8.4" text-anchor="middle" stroke="#222" stroke-width="0.3">+</text>
<text transform="translate(50.90,532.80) rotate(-90)" x="0" y="0" font-size="10.6" text-anchor="middle" textLength="68.50" lengthAdjust="spacingAndGlyphs" stroke="#222" stroke-width="0.3">Specific activity</text>
<text transform="translate(64.20,530.80) rotate(-90)" x="0" y="0" font-size="9.4" text-anchor="middle" textLength="40.00" lengthAdjust="spacingAndGlyphs" stroke="#222" stroke-width="0.3">(mU/mg)</text>
<text x="286.40" y="484.60" font-size="17.4" font-weight="bold" fill="#000" stroke="#000" stroke-width="0.1">H</text>
<text x="418.60" y="484.20" font-size="12.4" font-weight="bold" fill="#111" stroke="#111" stroke-width="0.1">ID</text>
<text x="430.60" y="486.90" font-size="7.6" font-weight="bold" fill="#111" stroke="#111" stroke-width="0.1">50</text>
<line x1="365.00" y1="583.40" x2="517.00" y2="583.40" stroke="#c6c6c6" stroke-width="1"/>
<text x="362.40" y="587.00" font-size="8.6" text-anchor="end" fill="#2a2a2a" stroke="#2a2a2a" stroke-width="0.3">0</text>
<line x1="365.00" y1="568.70" x2="517.00" y2="568.70" stroke="#d0d0d0" stroke-width="1"/>
<text x="362.40" y="572.30" font-size="8.6" text-anchor="end" fill="#2a2a2a" stroke="#2a2a2a" stroke-width="0.3">20</text>
<line x1="365.00" y1="554.00" x2="517.00" y2="554.00" stroke="#d0d0d0" stroke-width="1"/>
<text x="362.40" y="557.60" font-size="8.6" text-anchor="end" fill="#2a2a2a" stroke="#2a2a2a" stroke-width="0.3">40</text>
<line x1="365.00" y1="539.30" x2="517.00" y2="539.30" stroke="#d0d0d0" stroke-width="1"/>
<text x="362.40" y="542.90" font-size="8.6" text-anchor="end" fill="#2a2a2a" stroke="#2a2a2a" stroke-width="0.3">60</text>
<line x1="365.00" y1="524.60" x2="517.00" y2="524.60" stroke="#d0d0d0" stroke-width="1"/>
<text x="362.40" y="528.20" font-size="8.6" text-anchor="end" fill="#2a2a2a" stroke="#2a2a2a" stroke-width="0.3">80</text>
<line x1="365.00" y1="509.90" x2="517.00" y2="509.90" stroke="#d0d0d0" stroke-width="1"/>
<text x="362.40" y="513.50" font-size="8.6" text-anchor="end" fill="#2a2a2a" textLength="14.00" lengthAdjust="spacingAndGlyphs" stroke="#2a2a2a" stroke-width="0.3">100</text>
<line x1="365.00" y1="495.20" x2="517.00" y2="495.20" stroke="#d0d0d0" stroke-width="1"/>
<text x="362.40" y="498.80" font-size="8.6" text-anchor="end" fill="#2a2a2a" textLength="14.00" lengthAdjust="spacingAndGlyphs" stroke="#2a2a2a" stroke-width="0.3">120</text>
<rect x="373.80" y="509.90" width="8.40" height="73.50" fill="#343434"/>
<line x1="378.00" y1="507.69" x2="378.00" y2="509.90" stroke="#333" stroke-width="1"/>
<line x1="376.40" y1="507.69" x2="379.60" y2="507.69" stroke="#333" stroke-width="1"/>
<rect x="385.20" y="509.90" width="8.20" height="73.50" fill="#8f8f8f"/>
<line x1="389.30" y1="501.30" x2="389.30" y2="509.90" stroke="#333" stroke-width="1"/>
<line x1="387.70" y1="501.30" x2="390.90" y2="501.30" stroke="#333" stroke-width="1"/>
<line x1="389.30" y1="509.90" x2="389.30" y2="518.50" stroke="#333" stroke-width="1"/>
<line x1="387.70" y1="518.50" x2="390.90" y2="518.50" stroke="#333" stroke-width="1"/>
<rect x="410.80" y="513.94" width="8.40" height="69.46" fill="#343434"/>
<line x1="415.00" y1="512.47" x2="415.00" y2="513.94" stroke="#333" stroke-width="1"/>
<line x1="413.40" y1="512.47" x2="416.60" y2="512.47" stroke="#333" stroke-width="1"/>
<rect x="421.50" y="523.20" width="8.20" height="60.20" fill="#8f8f8f"/>
<line x1="425.60" y1="514.90" x2="425.60" y2="523.20" stroke="#333" stroke-width="1"/>
<line x1="424.00" y1="514.90" x2="427.20" y2="514.90" stroke="#333" stroke-width="1"/>
<line x1="425.60" y1="523.20" x2="425.60" y2="531.95" stroke="#333" stroke-width="1"/>
<line x1="424.00" y1="531.95" x2="427.20" y2="531.95" stroke="#333" stroke-width="1"/>
<rect x="447.70" y="515.85" width="8.40" height="67.55" fill="#343434"/>
<line x1="451.90" y1="514.09" x2="451.90" y2="515.85" stroke="#333" stroke-width="1"/>
<line x1="450.30" y1="514.09" x2="453.50" y2="514.09" stroke="#333" stroke-width="1"/>
<rect x="457.90" y="547.90" width="8.20" height="35.50" fill="#8f8f8f"/>
<line x1="462.00" y1="539.59" x2="462.00" y2="547.90" stroke="#333" stroke-width="1"/>
<line x1="460.40" y1="539.59" x2="463.60" y2="539.59" stroke="#333" stroke-width="1"/>
<line x1="462.00" y1="547.90" x2="462.00" y2="556.43" stroke="#333" stroke-width="1"/>
<line x1="460.40" y1="556.43" x2="463.60" y2="556.43" stroke="#333" stroke-width="1"/>
<rect x="484.40" y="517.32" width="8.40" height="66.08" fill="#343434"/>
<line x1="488.60" y1="515.41" x2="488.60" y2="517.32" stroke="#333" stroke-width="1"/>
<line x1="487.00" y1="515.41" x2="490.20" y2="515.41" stroke="#333" stroke-width="1"/>
<rect x="495.20" y="526.22" width="8.20" height="57.18" fill="#8f8f8f"/>
<line x1="499.30" y1="517.84" x2="499.30" y2="526.22" stroke="#333" stroke-width="1"/>
<line x1="497.70" y1="517.84" x2="500.90" y2="517.84" stroke="#333" stroke-width="1"/>
<line x1="499.30" y1="526.22" x2="499.30" y2="534.82" stroke="#333" stroke-width="1"/>
<line x1="497.70" y1="534.82" x2="500.90" y2="534.82" stroke="#333" stroke-width="1"/>
<rect x="433.60" y="489.40" width="35.00" height="8.00" fill="#fff"/>
<rect x="435.60" y="490.80" width="2.80" height="4.80" fill="#343434"/>
<text x="439.40" y="496.30" font-size="8.8" textLength="4.90" lengthAdjust="spacingAndGlyphs" stroke="#222" stroke-width="0.3">A</text>
<rect x="449.60" y="490.80" width="2.80" height="4.80" fill="#8f8f8f"/>
<text x="453.20" y="496.30" font-size="8.8" textLength="14.20" lengthAdjust="spacingAndGlyphs" stroke="#222" stroke-width="0.3">ALC</text>
<rect x="487.50" y="497.00" width="17.00" height="8.50" fill="#fff"/>
<text x="496.00" y="506.40" font-size="12.8" text-anchor="middle" font-weight="bold" fill="#111" textLength="14.80" lengthAdjust="spacing" style="font-family:&quot;DejaVu Sans&quot;,sans-serif">**</text>
<text x="334.80" y="595.20" font-size="8.2" text-anchor="middle" textLength="66.50" lengthAdjust="spacingAndGlyphs" stroke="#222" stroke-width="0.15">TIRON (1 mmol/L)</text>
<text x="335.30" y="606.00" font-size="8.2" text-anchor="middle" textLength="62.40" lengthAdjust="spacingAndGlyphs" stroke="#222" stroke-width="0.15">EPA (15 µmol/L)</text>
<text x="377.80" y="595.60" font-size="8.4" text-anchor="middle" stroke="#222" stroke-width="0.3">–</text>
<text x="377.80" y="606.40" font-size="8.4" text-anchor="middle" stroke="#222" stroke-width="0.3">–</text>
<text x="389.20" y="595.60" font-size="8.4" text-anchor="middle" stroke="#222" stroke-width="0.3">–</text>
<text x="389.20" y="606.40" font-size="8.4" text-anchor="middle" stroke="#222" stroke-width="0.3">–</text>
<text x="414.80" y="595.60" font-size="8.4" text-anchor="middle" stroke="#222" stroke-width="0.3">+</text>
<text x="414.80" y="606.40" font-size="8.4" text-anchor="middle" stroke="#222" stroke-width="0.3">–</text>
<text x="425.20" y="595.60" font-size="8.4" text-anchor="middle" stroke="#222" stroke-width="0.3">+</text>
<text x="425.20" y="606.40" font-size="8.4" text-anchor="middle" stroke="#222" stroke-width="0.3">–</text>
<text x="451.70" y="595.60" font-size="8.4" text-anchor="middle" stroke="#222" stroke-width="0.3">–</text>
<text x="451.70" y="606.40" font-size="8.4" text-anchor="middle" stroke="#222" stroke-width="0.3">+</text>
<text x="462.50" y="595.60" font-size="8.4" text-anchor="middle" stroke="#222" stroke-width="0.3">–</text>
<text x="462.50" y="606.40" font-size="8.4" text-anchor="middle" stroke="#222" stroke-width="0.3">+</text>
<text x="487.70" y="595.60" font-size="8.4" text-anchor="middle" stroke="#222" stroke-width="0.3">+</text>
<text x="487.70" y="606.40" font-size="8.4" text-anchor="middle" stroke="#222" stroke-width="0.3">+</text>
<text x="498.50" y="595.60" font-size="8.4" text-anchor="middle" stroke="#222" stroke-width="0.3">+</text>
<text x="498.50" y="606.40" font-size="8.4" text-anchor="middle" stroke="#222" stroke-width="0.3">+</text>
<text transform="translate(339.80,533.60) rotate(-90)" x="0" y="0" font-size="13.2" text-anchor="middle" font-weight="bold" textLength="68.40" lengthAdjust="spacingAndGlyphs" stroke="#222" stroke-width="0.1">% Cell viable</text>
<g id="panelI">
<text x="12.40" y="633.00" font-size="15.6" font-weight="bold" fill="#000" stroke="#000" stroke-width="0.1">I</text>
<path d="M69.60,717.30 C69.47,706.12 70.60,694.47 71.40,685.50 C72.20,676.53 73.17,669.48 74.40,663.50 C75.63,657.52 77.20,653.25 78.80,649.60 C80.40,645.95 82.07,643.90 84.00,641.60 C85.93,639.30 87.42,637.57 90.40,635.80 C93.38,634.03 97.28,632.37 101.90,631.00 C106.52,629.63 111.95,628.53 118.10,627.60 C124.25,626.67 132.27,625.65 138.80,625.40 C145.33,625.15 151.52,625.60 157.30,626.10 C163.08,626.60 168.82,627.35 173.50,628.40 C178.18,629.45 181.65,630.93 185.40,632.40 C189.15,633.87 192.97,635.62 196.00,637.20 C199.03,638.78 201.27,640.15 203.60,641.90 C205.93,643.65 207.78,645.42 210.00,647.70 C212.22,649.98 214.78,652.95 216.90,655.60 C219.02,658.25 220.77,660.88 222.70,663.60 C224.63,666.32 226.55,669.13 228.50,671.90 C230.45,674.67 232.35,677.15 234.40,680.20 C236.45,683.25 238.72,686.97 240.80,690.20 C242.88,693.43 245.00,695.78 246.90,699.60 C248.80,703.42 250.78,708.28 252.20,713.10 C253.62,717.92 254.62,723.38 255.40,728.50 C256.18,733.62 256.77,739.63 256.90,743.80 C257.03,747.97 256.65,750.55 256.20,753.50 C255.75,756.45 255.30,758.98 254.20,761.50 C253.10,764.02 251.57,766.38 249.60,768.60 C247.63,770.82 245.07,772.93 242.40,774.80 C239.73,776.67 237.67,778.20 233.60,779.80 C229.53,781.40 223.77,782.97 218.00,784.40 C212.23,785.83 205.33,787.33 199.00,788.40 C192.67,789.47 186.50,790.27 180.00,790.80 C173.50,791.33 168.33,791.63 160.00,791.60 C151.67,791.57 138.25,791.13 130.00,790.60 C121.75,790.07 116.08,789.40 110.50,788.40 C104.92,787.40 100.65,786.40 96.50,784.60 C92.35,782.80 88.75,780.43 85.60,777.60 C82.45,774.77 79.83,771.77 77.60,767.60 C75.37,763.43 73.53,760.98 72.20,752.60 C70.87,744.22 69.73,728.48 69.60,717.30Z" fill="none" stroke="#333" stroke-width="1.05"/>
<line x1="92.60" y1="644.20" x2="92.60" y2="652.12" stroke="#222" stroke-width="1.0"/>
<path d="M92.60,655.00 L91.10,651.40 L94.10,651.40Z" fill="#111"/>
<text x="96.80" y="653.70" font-size="8.2" font-style="italic" textLength="34.50" lengthAdjust="spacingAndGlyphs" stroke="#222" stroke-width="0.15">Glycolysis</text>
<line x1="92.60" y1="657.00" x2="92.60" y2="664.92" stroke="#222" stroke-width="1.0"/>
<path d="M92.60,667.80 L91.10,664.20 L94.10,664.20Z" fill="#111"/>
<text x="98.00" y="666.00" font-size="8.2" font-style="italic" textLength="36.40" lengthAdjust="spacingAndGlyphs" stroke="#222" stroke-width="0.15">Lactic acid</text>
<line x1="139.20" y1="656.40" x2="139.20" y2="647.28" stroke="#888" stroke-width="1.3"/>
<path d="M139.20,644.40 L140.80,648.00 L137.60,648.00Z" fill="#111"/>
<text x="141.50" y="655.40" font-size="9.5" font-style="italic" textLength="60.50" lengthAdjust="spacingAndGlyphs" stroke="#222" stroke-width="0.3">Glutaminolysis</text>
<line x1="126.50" y1="685.60" x2="126.50" y2="677.68" stroke="#333" stroke-width="1.1"/>
<path d="M126.50,674.80 L128.10,678.40 L124.90,678.40Z" fill="#111"/>
<text x="132.00" y="682.60" font-size="9.4" font-weight="bold" fill="#111" textLength="46.60" lengthAdjust="spacingAndGlyphs" stroke="#111" stroke-width="0.3">Tryptophan</text>
<ellipse cx="94.5" cy="697" rx="20.1" ry="13.2" fill="#6b6b6b" stroke="#3e3e3e" stroke-width="1"/>
<text x="93.90" y="701.70" font-size="10.4" text-anchor="middle" fill="#151515" textLength="17.00" lengthAdjust="spacingAndGlyphs" stroke="#151515" stroke-width="0.3">EPA</text>
<line x1="117.20" y1="697.40" x2="130.00" y2="697.40" stroke="#111" stroke-width="1.6"/>
<line x1="130.40" y1="691.60" x2="130.40" y2="703.60" stroke="#111" stroke-width="1.6"/>
<line x1="135.60" y1="702.60" x2="135.60" y2="694.48" stroke="#999" stroke-width="1.3"/>
<path d="M135.60,691.60 L137.20,695.20 L134.00,695.20Z" fill="#111"/>
<text x="139.40" y="701.30" font-size="9.2" font-weight="bold" font-style="italic" fill="#111" textLength="15.20" lengthAdjust="spacingAndGlyphs" stroke="#111" stroke-width="0.1">IDO</text>
<line x1="157.40" y1="686.00" x2="157.40" y2="706.80" stroke="#111" stroke-width="1.3"/>
<path d="M157.40,710.00 L155.70,706.00 L159.10,706.00Z" fill="#111"/>
<line x1="159.80" y1="697.40" x2="186.00" y2="697.40" stroke="#111" stroke-width="1.5"/>
<path d="M190.00,697.40 L185.60,699.30 L185.60,695.50Z" fill="#111"/>
<text x="196.20" y="701.40" font-size="10.6" textLength="18.40" lengthAdjust="spacingAndGlyphs" stroke="#222" stroke-width="0.3">ROS</text>
<line x1="217.80" y1="702.40" x2="217.80" y2="693.12" stroke="#888" stroke-width="1.1"/>
<path d="M217.80,690.40 L219.30,693.80 L216.30,693.80Z" fill="#111"/>
<line x1="221.60" y1="702.40" x2="221.60" y2="693.32" stroke="#888" stroke-width="1.1"/>
<path d="M221.60,690.60 L223.10,694.00 L220.10,694.00Z" fill="#111"/>
<text x="134.60" y="719.70" font-size="9.6" font-weight="bold" fill="#111" textLength="47.20" lengthAdjust="spacingAndGlyphs" stroke="#111" stroke-width="0.3">Kynurenine</text>
<line x1="206.80" y1="704.60" x2="206.80" y2="723.60" stroke="#111" stroke-width="1.3"/>
<path d="M206.80,726.80 L205.10,722.80 L208.50,722.80Z" fill="#111"/>
<path d="M188,718.4 C222,718.6 246,714 256.2,695.6" fill="none" stroke="#1a1a1a" stroke-width="1.2"/>
<path d="M258.60,692.00 L257.74,696.71 L254.58,694.61Z" fill="#111"/>
<path d="M103.8,709.4 C110,722.5 121,730.6 138,730.8 C180,730.0 226,723.0 256.0,718.4" fill="none" stroke="#1a1a1a" stroke-width="1.2"/>
<line x1="255.60" y1="711.80" x2="258.40" y2="727.00" stroke="#222" stroke-width="1.5"/>
<polygon points="183.4,735.8 191.2,743.6 202.4,731.5 207.6,737.0 220.6,728.1 219.9,739.6 231.8,735.0 227.5,742.2 244.8,742.8 229.4,749.7 234.4,761.8 221.4,759.2 220.6,766.1 210.2,763.5 197.2,770.5 193.7,765.3 184.2,774.8 184.2,765.6 172.1,765.3 178.2,759.2 167.8,755.7 179.0,752.3 171.2,745.4 185.1,744.5" fill="#666" stroke="#4a4a4a" stroke-width="0.8"/>
<text x="188.60" y="754.80" font-size="7.0" font-weight="bold" fill="#1a1a1a" textLength="32.00" lengthAdjust="spacingAndGlyphs" stroke="#1a1a1a" stroke-width="0.1">Cell Death</text>
<text x="88.00" y="751.60" font-size="8.8" font-weight="bold" fill="#111" textLength="63.20" lengthAdjust="spacingAndGlyphs" stroke="#111" stroke-width="0.35">CR cells possess</text>
<text x="88.00" y="760.80" font-size="8.8" font-weight="bold" fill="#111" textLength="64.00" lengthAdjust="spacingAndGlyphs" stroke="#111" stroke-width="0.35">higher basal level</text>
<text x="88.00" y="770.00" font-size="8.8" font-weight="bold" fill="#111" textLength="25.00" lengthAdjust="spacingAndGlyphs" stroke="#111" stroke-width="0.35">of ROS</text>
<text x="223.50" y="620.20" font-size="7.6" text-anchor="middle" font-weight="bold" font-style="italic" textLength="19.60" lengthAdjust="spacingAndGlyphs" stroke="#222" stroke-width="0.1">Tumor</text>
<text x="195.20" y="630.30" font-size="7.6" font-weight="bold" font-style="italic" textLength="58.00" lengthAdjust="spacingAndGlyphs" stroke="#222" stroke-width="0.1">Microenvironment</text>
<line x1="222.60" y1="641.00" x2="222.60" y2="649.76" stroke="#666" stroke-width="1.0"/>
<path d="M222.60,652.80 L220.90,649.00 L224.30,649.00Z" fill="#000"/>
<line x1="226.40" y1="641.00" x2="226.40" y2="649.76" stroke="#666" stroke-width="1.0"/>
<path d="M226.40,652.80 L224.70,649.00 L228.10,649.00Z" fill="#000"/>
<text x="229.00" y="649.60" font-size="9.8" textLength="15.00" lengthAdjust="spacingAndGlyphs" stroke="#222" stroke-width="0.3">TRP</text>
<path d="M235.6,651.0 C236.6,655.2 234.6,657.6 230.8,659.2" fill="none" stroke="#222" stroke-width="1.1"/>
<g transform="translate(222.9,667.0) rotate(-31)"><rect x="-11.2" y="-4.9" width="22.4" height="9.8" rx="2.4" fill="#fff" stroke="#1a1a1a" stroke-width="1.1"/><text x="0" y="2.6" font-size="7.2" font-weight="bold" text-anchor="middle" fill="#111" stroke="#111" stroke-width="0.35" textLength="14.6" lengthAdjust="spacingAndGlyphs">LAT1</text></g>
<path d="M212.6,674.0 C206,678.8 199,680.2 192.6,679.8" fill="none" stroke="#222" stroke-width="1.2"/>
<path d="M190.40,679.80 L194.80,677.70 L194.80,681.90Z" fill="#111"/>
<text x="284.50" y="642.60" font-size="5.6" text-anchor="middle" font-weight="bold" textLength="32.60" lengthAdjust="spacingAndGlyphs" stroke="#222" stroke-width="0.1">Naive T-cells</text>
<line x1="288.33" y1="650.87" x2="289.98" y2="649.58" stroke="#888" stroke-width="0.8"/>
<circle cx="289.98" cy="649.58" r="0.8" fill="#555"/>
<line x1="283.41" y1="647.62" x2="283.95" y2="645.59" stroke="#888" stroke-width="0.8"/>
<circle cx="283.95" cy="645.59" r="0.8" fill="#555"/>
<line x1="276.35" y1="648.55" x2="275.30" y2="646.73" stroke="#888" stroke-width="0.8"/>
<circle cx="275.30" cy="646.73" r="0.8" fill="#555"/>
<line x1="273.11" y1="651.67" x2="271.33" y2="650.56" stroke="#888" stroke-width="0.8"/>
<circle cx="271.33" cy="650.56" r="0.8" fill="#555"/>
<line x1="271.74" y1="657.41" x2="269.64" y2="657.59" stroke="#888" stroke-width="0.8"/>
<circle cx="269.64" cy="657.59" r="0.8" fill="#555"/>
<line x1="273.48" y1="662.07" x2="271.78" y2="663.30" stroke="#888" stroke-width="0.8"/>
<circle cx="271.78" cy="663.30" r="0.8" fill="#555"/>
<circle cx="281.0" cy="656.6" r="9.8" fill="#ababab"/>
<circle cx="282.5" cy="658.9" r="8.5" fill="#4e4e4e" stroke="#383838" stroke-width="0.7"/>
<text x="282.50" y="660.70" font-size="5" text-anchor="middle" fill="#9a9a9a">T</text>
<line x1="288.53" y1="707.53" x2="290.53" y2="705.72" stroke="#888" stroke-width="0.8"/>
<circle cx="290.53" cy="705.72" r="1.0" fill="#555"/>
<line x1="281.36" y1="703.22" x2="282.01" y2="700.60" stroke="#888" stroke-width="0.8"/>
<circle cx="282.01" cy="700.60" r="1.0" fill="#555"/>
<line x1="271.41" y1="704.36" x2="270.18" y2="701.95" stroke="#888" stroke-width="0.8"/>
<circle cx="270.18" cy="701.95" r="1.0" fill="#555"/>
<line x1="266.19" y1="708.90" x2="263.97" y2="707.35" stroke="#888" stroke-width="0.8"/>
<circle cx="263.97" cy="707.35" r="1.0" fill="#555"/>
<line x1="263.60" y1="717.10" x2="260.90" y2="717.10" stroke="#888" stroke-width="0.8"/>
<circle cx="260.90" cy="717.10" r="1.0" fill="#555"/>
<line x1="265.91" y1="724.89" x2="263.64" y2="726.36" stroke="#888" stroke-width="0.8"/>
<circle cx="263.64" cy="726.36" r="1.0" fill="#555"/>
<circle cx="277.9" cy="717.1" r="14.8" fill="#ababab"/>
<circle cx="279.29999999999995" cy="719.1" r="12.4" fill="#4e4e4e" stroke="#383838" stroke-width="0.7"/>
<text x="279.30" y="720.90" font-size="5" text-anchor="middle" fill="#9a9a9a">T</text>
<circle cx="269" cy="680" r="9.6" fill="#5c5c5c" stroke="#3c3c3c" stroke-width="0.8"/>
<text x="269.00" y="682.20" font-size="6.2" text-anchor="middle" fill="#1e1e1e" textLength="12.60" lengthAdjust="spacingAndGlyphs" stroke="#1e1e1e" stroke-width="0.15">KYN</text>
<line x1="281.00" y1="671.20" x2="281.00" y2="690.24" stroke="#111" stroke-width="1.4"/>
<path d="M281.00,693.60 L279.20,689.40 L282.80,689.40Z" fill="#111"/>
<line x1="255.60" y1="688.20" x2="255.60" y2="675.40" stroke="#999" stroke-width="1.4"/>
<path d="M255.60,672.20 L257.30,676.20 L253.90,676.20Z" fill="#111"/>
<text x="280.20" y="742.40" font-size="8.2" text-anchor="middle" fill="#1a1a1a" textLength="18.20" lengthAdjust="spacingAndGlyphs" stroke="#1a1a1a" stroke-width="0.5">T-regs</text>
<text x="279.80" y="750.80" font-size="7.0" text-anchor="middle" fill="#1a1a1a" textLength="43.60" lengthAdjust="spacingAndGlyphs" stroke="#1a1a1a" stroke-width="0.45">CD25+FoxP3+</text>
</g>
</svg>
</body></html>
